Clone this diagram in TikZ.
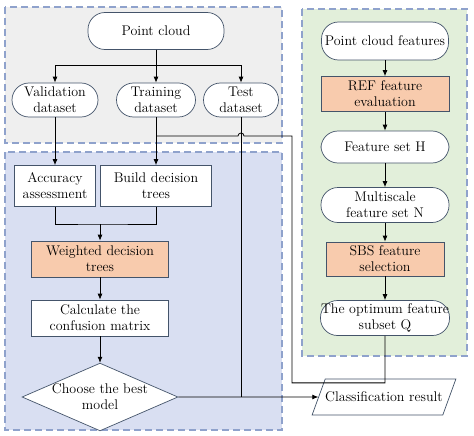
\documentclass[tikz,border=0pt]{standalone}
\usepackage{tikz}
\usetikzlibrary{arrows.meta}
\usetikzlibrary{shapes.geometric}

\definecolor{panelline}{HTML}{8FA2CC}
\definecolor{edgecol}{HTML}{44546A}
\definecolor{grayfill}{HTML}{EFEFEF}
\definecolor{bluefill}{HTML}{D9DFF2}
\definecolor{greenfill}{HTML}{E2EFDA}
\definecolor{orangefill}{HTML}{F8CBAD}

\begin{document}
\begin{tikzpicture}[x=1pt,y=-1pt,
	font=\fontsize{14}{16}\selectfont,
	panel/.style={draw=panelline,line width=1.1pt,dash pattern=on 7pt off 4pt},
	pill/.style={draw=edgecol,line width=0.7pt,fill=white,rounded corners=17pt,align=center,inner sep=0pt},
	box/.style={draw=edgecol,line width=0.7pt,fill=white,align=center,inner sep=0pt},
	hot/.style={box,fill=orangefill},
	arr/.style={-{Latex[length=6pt,width=5pt]},line width=0.8pt},
	wire/.style={line width=0.8pt}]
\useasboundingbox (0,0) rectangle (474,436);
\fill[grayfill] (5,7) rectangle (282,143);
\draw[panel] (5,7) rectangle (282,143);
\fill[bluefill] (5,152) rectangle (282,430);
\draw[panel] (5,152) rectangle (282,430);
\fill[greenfill] (302,9) rectangle (467,356);
\draw[panel] (302,9) rectangle (467,356);

\node[pill,minimum width=136pt,minimum height=37pt] (pc) at (156,31) {Point cloud};
\node[pill,minimum width=86pt,minimum height=34pt] (val) at (55,100) {Validation\\dataset};
\node[pill,minimum width=79pt,minimum height=34pt] (train) at (156,100) {Training\\dataset};
\node[pill,minimum width=75pt,minimum height=34pt] (test) at (241,100) {Test\\dataset};
\node[box,minimum width=81pt,minimum height=41pt] (acc) at (55,186) {Accuracy\\assessment};
\node[box,minimum width=111pt,minimum height=41pt] (build) at (156,186) {Build decision\\trees};
\node[hot,minimum width=137pt,minimum height=36pt] (wdt) at (100,259) {Weighted decision\\trees};
\node[box,minimum width=137pt,minimum height=36pt] (conf) at (100,318) {Calculate the\\confusion matrix};
\node[diamond,draw=edgecol,line width=0.7pt,fill=white,align=center,inner sep=0pt,shape aspect=2.3,
	minimum width=152pt,minimum height=65pt] (best) at (100,397) {Choose the best\\model};

\node[pill,minimum width=127pt,minimum height=38pt] (pcf) at (385,41) {Point cloud features};
\node[hot,minimum width=128pt,minimum height=35pt] (ref) at (385,94) {REF feature\\evaluation};
\node[pill,minimum width=128pt,minimum height=32pt] (fsh) at (385,147) {Feature set H};
\node[pill,minimum width=128pt,minimum height=35pt] (msn) at (385,205) {Multiscale\\feature set N};
\node[hot,minimum width=118pt,minimum height=34pt] (sbs) at (385,259) {SBS feature\\selection};
\node[pill,minimum width=129pt,minimum height=35pt] (q) at (385,318) {The optimum feature\\subset Q};
\node[trapezium,trapezium left angle=70,trapezium right angle=110,
	draw=edgecol,line width=0.7pt,fill=white,inner xsep=0pt,inner ysep=13pt] (cls) at (384,397) {Classification result};

\coordinate (loop) at (292,136);
\coordinate (join) at (100,224);

\draw[arr] (pc) -- (train);
\draw[arr] (pc.south) -- ++(0,16) -| (val.north);
\draw[arr] (pc.south) -- ++(0,16) -| (test.north);
\draw[arr] (val) -- (acc);
\draw[arr] (train) -- (build);
\draw[wire] (acc.south) |- (join) -| (build.south);
\draw[arr] (join) -- (wdt.north);
\draw[arr] (wdt) -- (conf);
\draw[arr] (conf) -- (best);
\draw[arr] (best.east) -- (cls.west);
\draw[wire] (test.south) -- (test.south |- best.east);
\draw[wire] (q.south) -- ++(0,47) -| (loop) -- (244,136)
	arc[start angle=0,end angle=-180,radius=3] -- (train |- loop);

\draw[arr] (pcf) -- (ref);
\draw[arr] (ref) -- (fsh);
\draw[arr] (fsh) -- (msn);
\draw[arr] (msn) -- (sbs);
\draw[arr] (sbs) -- (q);
\end{tikzpicture}
\end{document}
